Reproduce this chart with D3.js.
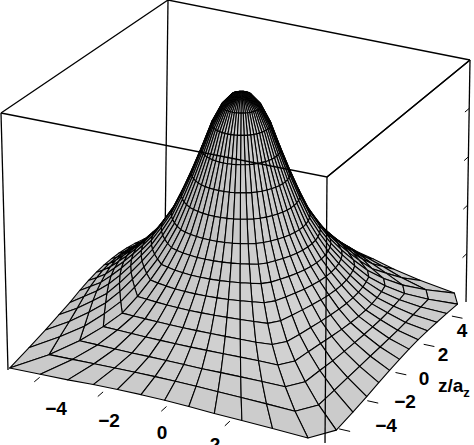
<!DOCTYPE html>
<html><head><meta charset="utf-8">
<script src="https://cdn.jsdelivr.net/npm/d3@7"></script>
<style>body{margin:0;background:#fff}svg{display:block}</style>
</head><body>
<script>
// ---- data ----
const xTicks = [-4, -2, 0, 2];
const zTicks = [-4, -2, 0, 2, 4];
const heightTicks = [0.2, 0.4, 0.6, 0.8];
const peakCenter = [-0.8, 1.6];               // floor position of the maximum (x, z/a_z)
const profileR = [0, 0.3, 0.6, 0.9, 1.2, 1.6, 2.0, 2.5, 3.0, 3.5, 4.0, 5.0, 6.0, 7.0, 9.0];
const profileH = [0.89, 0.875, 0.83, 0.75, 0.64, 0.51, 0.40, 0.30, 0.23, 0.17, 0.12, 0.065, 0.035, 0.015, 0.0];
const ringS = d3.range(0, 17).map(i => i / 16);
const nRadial = 56;

const W = 474, H = 445;
const svg = d3.select("body").append("svg").attr("width", W).attr("height", H);

const C = {
  b: {"-5,-5": [8, 370], "5,-5": [325, 443], "5,5": [466, 302], "-5,5": [165, 242]},
  t: {"-5,-5": [1, 113], "5,-5": [327, 177], "5,5": [470, 60], "-5,5": [168, 0]}
};
const u = d3.scaleLinear().domain([-5, 5]).range([0, 1]);
const v = d3.scaleLinear().domain([-5, 5]).range([0, 1]);
const w = d3.scaleLinear().domain([0, 1]).range([0, 1]);
function bil(L, a, b) {
  const p00 = L["-5,-5"], p10 = L["5,-5"], p11 = L["5,5"], p01 = L["-5,5"];
  return [0, 1].map(k => (1 - a) * (1 - b) * p00[k] + a * (1 - b) * p10[k] + a * b * p11[k] + (1 - a) * b * p01[k]);
}
function proj(x, z, h) {
  const a = u(x), b = v(z), c = w(h);
  const p = bil(C.b, a, b), q = bil(C.t, a, b);
  return [p[0] + (q[0] - p[0]) * c, p[1] + (q[1] - p[1]) * c];
}
const hOf = d3.scaleLinear().domain(profileR).range(profileH).clamp(true);

const g = svg.append("g").attr("stroke", "#000").attr("fill", "none").attr("stroke-width", 1.3);
const line = d3.line();
function edge(p) { g.append("path").attr("d", line(p)); }
edge([proj(-5, 5, 0), proj(-5, 5, 1)]);
edge([proj(-5, -5, 1), proj(-5, 5, 1), proj(5, 5, 1)]);
edge([proj(-5, -5, 0), proj(-5, -5, 1)]);
edge([proj(5, 5, 0), proj(5, 5, 1)]);
edge([proj(5, -5, 1), proj(5, 5, 1)]);

function Rmax(t) {
  const dx = Math.cos(t), dz = Math.sin(t);
  const tx = dx > 0 ? (5 - peakCenter[0]) / dx : dx < 0 ? (-5 - peakCenter[0]) / dx : Infinity;
  const tz = dz > 0 ? (5 - peakCenter[1]) / dz : dz < 0 ? (-5 - peakCenter[1]) / dz : Infinity;
  return Math.min(tx, tz);
}
function pt(s, j) {
  const t = 2 * Math.PI * j / nRadial;
  const R = Rmax(t), Rc = 4.6;
  const wgt = Math.pow(s, 5);
  const r = s * ((1 - wgt) * Rc + wgt * R);
  const x = peakCenter[0] + r * Math.cos(t), z = peakCenter[1] + r * Math.sin(t);
  return {x: Math.max(-5, Math.min(5, x)), z: Math.max(-5, Math.min(5, z)), h: hOf(r)};
}
const cells = [];
for (let i = 0; i < ringS.length - 1; i++) {
  for (let j = 0; j < nRadial; j++) {
    const P = [pt(ringS[i], j), pt(ringS[i + 1], j), pt(ringS[i + 1], j + 1), pt(ringS[i], j + 1)];
    const cx = d3.mean(P, p => p.x), cz = d3.mean(P, p => p.z), ch = d3.mean(P, p => p.h);
    const ax = P[2].x - P[0].x, az = P[2].z - P[0].z, ah = (P[2].h - P[0].h) * 8;
    const bx = P[3].x - P[1].x, bz = P[3].z - P[1].z, bh = (P[3].h - P[1].h) * 8;
    let hx = az * bh - ah * bz, hv = ax * bz - az * bx, hz = ah * bx - ax * bh;
    const len = Math.hypot(hx, hv, hz) || 1; hx /= len; hv /= len; hz /= len;
    if (hv < 0) { hx = -hx; hv = -hv; hz = -hz; }
    const L = [0.45, 0.8, -0.4]; const ll = Math.hypot(...L);
    const lam = Math.max(0, (hx * L[0] + hv * L[1] + hz * L[2]) / ll);
    const grey = Math.round(165 + 45 * lam);
    cells.push({P, key: 0.4 * cx - 0.9 * cz - ch * 2, grey});
  }
}
cells.sort((a, b) => a.key - b.key);
svg.append("g").selectAll("path").data(cells).join("path")
  .attr("d", c => line(c.P.map(p => proj(p.x, p.z, p.h))) + "Z")
  .attr("fill", c => `rgb(${c.grey},${c.grey},${c.grey})`)
  .attr("stroke", "#000").attr("stroke-width", 1.1).attr("stroke-linejoin", "round");

const g2 = svg.append("g").attr("stroke", "#000").attr("fill", "none").attr("stroke-width", 1.3);
g2.append("path").attr("d", line([proj(-5, -5, 1), proj(5, -5, 1), proj(5, 5, 1)]));
g2.append("path").attr("d", line([proj(5, -5, 0), proj(5, -5, 1)]));

const font = "Liberation Sans, Arial, sans-serif";
const xLabX = d3.scaleLinear().domain([0, 2]).range([162, 215]);
const xLabY = d3.scaleLinear().domain([-4, 2]).range([415, 451]);
const zLabX = d3.scaleLinear().domain([-4, 4]).range([386, 462]);
const zLabY = d3.scaleLinear().domain([-4, 4]).range([432, 337]);
xTicks.forEach(t => {
  g2.append("path").attr("d", line([proj(t, -5, 0), proj(t, -5.35, 0)])).attr("stroke-width", 1);
  svg.append("text").attr("x", xLabX(t)).attr("y", xLabY(t)).attr("text-anchor", "middle")
    .attr("font-family", font).attr("font-weight", "bold").attr("font-size", 19)
    .text(t < 0 ? "\u2212" + (-t) : t);
});
zTicks.forEach(t => {
  g2.append("path").attr("d", line([proj(5, t, 0), proj(5.35, t, 0)])).attr("stroke-width", 1);
  svg.append("text").attr("x", zLabX(t)).attr("y", zLabY(t)).attr("text-anchor", "middle")
    .attr("font-family", font).attr("font-weight", "bold").attr("font-size", 19)
    .text(t < 0 ? "\u2212" + (-t) : t);
});
heightTicks.forEach(t => {
  g2.append("path").attr("d", line([proj(5, 5, t), proj(5, 4.7, t)])).attr("stroke-width", 1);
});
const zl = svg.append("text").attr("x", 438).attr("y", 392).attr("font-family", font)
  .attr("font-weight", "bold").attr("font-size", 19).text("z/a");
zl.append("tspan").attr("font-size", 13).attr("dy", 5).text("z");
</script>
</body></html>
